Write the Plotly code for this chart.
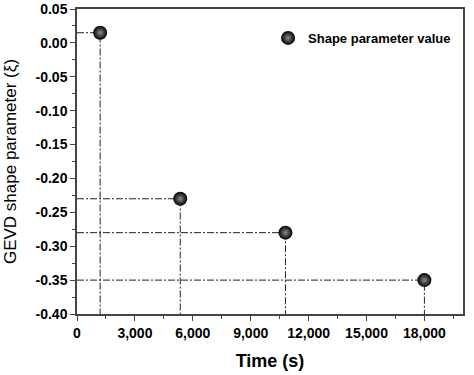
import plotly.graph_objects as go

time_s = [1200, 5350, 10800, 18000]
shape_xi = [0.015, -0.23, -0.28, -0.35]
x_ticks = [0, 3000, 6000, 9000, 12000, 15000, 18000]
x_tick_labels = ["0", "3,000", "6,000", "9,000", "12,000", "15,000", "18,000"]
y_ticks = [0.05, 0.0, -0.05, -0.10, -0.15, -0.20, -0.25, -0.30, -0.35, -0.40]
y_tick_labels = ["0.05", "0.00", "-0.05", "-0.10", "-0.15", "-0.20", "-0.25", "-0.30", "-0.35", "-0.40"]
x_range = [0, 20000]
y_range = [-0.40, 0.05]

FONT = "Liberation Sans, Arial, sans-serif"

fig = go.Figure()

for xv, yv in zip(time_s, shape_xi):
    fig.add_trace(go.Scatter(
        x=[x_range[0], xv, xv], y=[yv, yv, y_range[0]],
        mode="lines", line=dict(color="#222222", width=1, dash="7px,2px,2px,2px"),
        showlegend=False, hoverinfo="skip"))

fig.add_trace(go.Scatter(
    x=time_s, y=shape_xi, mode="markers", name="Shape parameter value",
    marker=dict(size=14, color="black",
                gradient=dict(type="radial", color="#8a8a8a"),
                line=dict(width=0))))

fig.update_layout(
    width=474, height=375,
    margin=dict(l=77, r=11, t=9, b=61),
    paper_bgcolor="white", plot_bgcolor="white",
    font=dict(family=FONT, color="black"),
    showlegend=True,
    legend=dict(x=0.495, y=0.905, xanchor="left", yanchor="middle",
                bgcolor="rgba(0,0,0,0)",
                font=dict(size=13, family=FONT, weight="bold"),
                itemwidth=30),
)

fig.update_xaxes(
    range=x_range, tickvals=x_ticks, ticktext=x_tick_labels, automargin=False,
    showgrid=False, zeroline=False, showline=True, linecolor="#444444", linewidth=1.5,
    mirror=True, ticks="outside", ticklen=5, tickcolor="#444444",
    tickfont=dict(size=14, family=FONT, weight="bold"),
    minor=dict(dtick=1500, tick0=0, ticks="outside", ticklen=3, tickcolor="#444444"),
    title=dict(text="Time (s)", font=dict(size=18, family=FONT, weight="bold")),
)
fig.update_yaxes(
    range=y_range, tickvals=y_ticks, ticktext=y_tick_labels, automargin=False,
    showgrid=False, zeroline=False, showline=True, linecolor="#444444", linewidth=1.5,
    mirror=True, ticks="outside", ticklen=5, tickcolor="#444444",
    tickfont=dict(size=14, family=FONT, weight="bold"),
    minor=dict(dtick=0.025, tick0=0, ticks="outside", ticklen=3, tickcolor="#444444"),
    title=dict(text="GEVD shape parameter (\u03be)", font=dict(size=17, family=FONT)),
)

fig.write_html("out.html", config={"displayModeBar": False},
               post_script="document.body.style.margin='0';")
